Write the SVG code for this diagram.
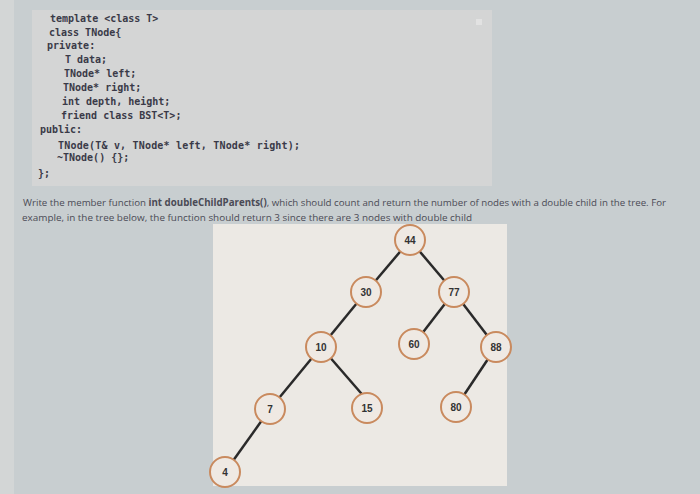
<svg xmlns="http://www.w3.org/2000/svg" width="700" height="494" viewBox="0 0 700 494">
<style>
.code{font-family:"DejaVu Sans Mono",monospace;font-size:10px;font-weight:bold;fill:#3a3a48}
.p{font-family:"Open Sans","Liberation Sans",sans-serif;font-size:9.8px;fill:#4a4a55}
.n circle{fill:#efe9e3;stroke:#c98a5e;stroke-width:2}
.n text{font-family:"Liberation Sans",sans-serif;font-size:10px;font-weight:bold;fill:#333;text-anchor:middle}
#edges line{stroke:#2a2a2a;stroke-width:2.5}
</style>
<rect width="700" height="494" fill="#c8ced0"/>
<rect x="0" y="0" width="14" height="494" fill="#d3d6d6"/>
<rect x="32" y="10" width="460" height="176" fill="#d4d5d5"/>
<rect x="476" y="19" width="6" height="6" fill="#e2e2e2"/>
<g class="code">
<text x="50" y="22">template &lt;class T&gt;</text>
<text x="49" y="36">class TNode{</text>
<text x="47" y="49">private:</text>
<text x="65" y="63">T data;</text>
<text x="64" y="77">TNode* left;</text>
<text x="63" y="91">TNode* right;</text>
<text x="62" y="105">int depth, height;</text>
<text x="61" y="119">friend class BST&lt;T&gt;;</text>
<text x="40" y="133">public:</text>
<text x="58" y="149" textLength="242">TNode(T&amp; v, TNode* left, TNode* right);</text>
<text x="57" y="161">~TNode() {};</text>
<text x="38" y="177">};</text>
</g>
<text class="p" x="23" y="206" textLength="643" lengthAdjust="spacingAndGlyphs">Write the member function <tspan font-weight="bold">int doubleChildParents()</tspan>, which should count and return the number of nodes with a double child in the tree. For</text>
<text class="p" x="22" y="221" textLength="450" lengthAdjust="spacingAndGlyphs">example, in the tree below, the function should return 3 since there are 3 nodes with double child</text>
<rect x="213" y="224" width="294" height="262" fill="#ece9e4"/>
<g id="edges">
<line x1="410" y1="240" x2="366" y2="292"/>
<line x1="410" y1="240" x2="454" y2="292"/>
<line x1="366" y1="292" x2="321" y2="347"/>
<line x1="454" y1="292" x2="414" y2="344"/>
<line x1="454" y1="292" x2="496" y2="347"/>
<line x1="321" y1="347" x2="270" y2="409"/>
<line x1="321" y1="347" x2="367" y2="400"/>
<line x1="496" y1="347" x2="456" y2="407"/>
<line x1="270" y1="409" x2="225" y2="472"/>
</g>
<g id="n44" class="n"><circle cx="410" cy="240" r="15"/><text x="410" y="244">44</text></g>
<g id="n30" class="n"><circle cx="366" cy="292" r="15"/><text x="366" y="296">30</text></g>
<g id="n77" class="n"><circle cx="454" cy="292" r="15"/><text x="454" y="296">77</text></g>
<g id="n10" class="n"><circle cx="321" cy="347" r="15"/><text x="321" y="351">10</text></g>
<g id="n60" class="n"><circle cx="414" cy="344" r="15"/><text x="414" y="348">60</text></g>
<g id="n88" class="n"><circle cx="496" cy="347" r="15"/><text x="496" y="351">88</text></g>
<g id="n7" class="n"><circle cx="270" cy="409" r="15"/><text x="270" y="413">7</text></g>
<g id="n15" class="n"><circle cx="367" cy="408" r="15"/><text x="367" y="412">15</text></g>
<g id="n80" class="n"><circle cx="456" cy="407" r="15"/><text x="456" y="411">80</text></g>
<g id="n4" class="n"><circle cx="225" cy="472" r="15"/><text x="225" y="476">4</text></g>
</svg>
